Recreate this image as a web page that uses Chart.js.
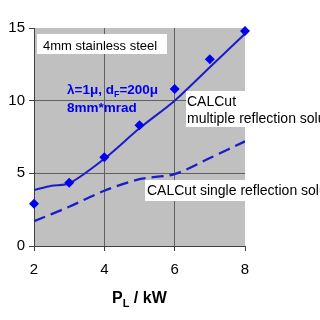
<!DOCTYPE html>
<html>
<head>
<meta charset="utf-8">
<script src="https://cdn.jsdelivr.net/npm/chart.js@4"></script>
<style>
  html, body { margin: 0; padding: 0; background: #fff; }
  #wrap { width: 320px; height: 320px; }
</style>
</head>
<body>
<div id="wrap"><canvas id="chart" width="320" height="320"></canvas></div>
<script>
// values
const pointX = [2, 3, 4, 5, 6, 7, 8];
const measured = [2.9, 4.35, 6.1, 8.3, 10.8, 12.85, 14.8];
const multiX = [2, 2.5, 3, 4, 5, 6, 7, 8];
const multiRefl = [3.85, 4.15, 4.3, 6.0, 8.1, 10.0, 12.3, 14.6];
const singleX = [2, 3, 4, 5, 6, 7, 8];
const singleRefl = [1.7, 2.7, 3.8, 4.6, 4.95, 6.05, 7.2];
const xTicks = [2, 4, 6, 8];
const yTicks = [0, 5, 10, 15];

const FONT = 'Arial, "Liberation Sans", sans-serif';
const BLUE = '#0000ee';
const LINE = '#1c1cc8';

function toXY(xs, ys) {
  return xs.map((x, i) => ({ x: x, y: ys[i] }));
}

const plotBg = {
  id: 'plotBg',
  beforeDraw(chart) {
    const a = chart.chartArea;
    const c = chart.ctx;
    c.save();
    c.fillStyle = '#c0c0c0';
    c.fillRect(a.left, a.top, a.right - a.left, a.bottom - a.top);
    c.restore();
  }
};

function box(c, x, y, w, h) {
  c.fillStyle = '#ffffff';
  c.fillRect(x, y, w, h);
}

const notes = {
  id: 'notes',
  afterDraw(chart) {
    const c = chart.ctx;
    c.save();
    c.textBaseline = 'alphabetic';
    c.textAlign = 'left';

    // material label
    box(c, 37, 34, 130, 20);
    c.fillStyle = '#000';
    c.font = '13px ' + FONT;
    c.fillText('4mm stainless steel', 43, 50);

    // beam parameters
    c.fillStyle = BLUE;
    c.font = 'bold 13.5px ' + FONT;
    let t = 'λ=1μ, d';
    c.fillText(t, 67, 94);
    let w = c.measureText(t).width;
    c.font = 'bold 9px ' + FONT;
    c.fillText('F', 67 + w, 97);
    let w2 = c.measureText('F').width;
    c.font = 'bold 13.5px ' + FONT;
    c.fillText('=200μ', 67 + w + w2, 94);
    c.fillText('8mm*mrad', 67, 112);

    // multiple reflection label
    box(c, 186, 91, 134, 36);
    c.fillStyle = '#000';
    c.font = '14px ' + FONT;
    c.fillText('CALCut', 187, 106);
    c.fillText('multiple reflection solution', 187, 123);

    // single reflection label
    box(c, 145, 180, 175, 21);
    c.fillStyle = '#000';
    c.fillText('CALCut single reflection solution', 147, 195);

    // axis title
    c.font = 'bold 16px ' + FONT;
    c.fillText('P', 112, 303);
    let pw = c.measureText('P').width;
    c.font = 'bold 11px ' + FONT;
    c.fillText('L', 112 + pw, 307);
    let lw = c.measureText('L').width;
    c.font = 'bold 16px ' + FONT;
    c.fillText(' / kW', 112 + pw + lw, 303);
    c.restore();
  }
};

new Chart(document.getElementById('chart'), {
  type: 'scatter',
  data: {
    datasets: [
      {
        label: 'measured',
        data: toXY(pointX, measured),
        showLine: false,
        pointStyle: 'rectRot',
        pointRadius: 5,
        backgroundColor: BLUE,
        borderColor: BLUE,
        borderWidth: 0,
        clip: false,
        order: 0
      },
      {
        label: 'multiple reflection',
        data: toXY(multiX, multiRefl),
        showLine: true,
        pointRadius: 0,
        borderColor: LINE,
        borderWidth: 2,
        tension: 0.25,
        order: 1
      },
      {
        label: 'single reflection',
        data: toXY(singleX, singleRefl),
        showLine: true,
        pointRadius: 0,
        borderColor: LINE,
        borderWidth: 2.3,
        borderDash: [12, 6],
        tension: 0.3,
        order: 2
      }
    ]
  },
  options: {
    responsive: false,
    animation: false,
    layout: { padding: { top: 28, right: 75, left: 0, bottom: 0 } },
    plugins: {
      legend: { display: false },
      tooltip: { enabled: false }
    },
    scales: {
      x: {
        type: 'linear',
        min: 2,
        max: 8,
        afterBuildTicks: s => { s.ticks = xTicks.map(v => ({ value: v })); },
        afterFit: s => { s.height = 74; },
        ticks: { color: '#000', font: { family: FONT, size: 15 }, padding: 10 },
        grid: {
          color: ctx => (ctx.tick && (ctx.tick.value === 4 || ctx.tick.value === 6)) ? '#606060' : 'rgba(0,0,0,0)',
          tickColor: '#404040',
          tickLength: 5,
          lineWidth: 1
        },
        border: { display: true, color: '#404040', width: 1 }
      },
      y: {
        type: 'linear',
        min: 0,
        max: 15,
        afterBuildTicks: s => { s.ticks = yTicks.map(v => ({ value: v })); },
        afterFit: s => { s.width = 34; },
        ticks: { color: '#000', font: { family: FONT, size: 15 }, padding: 4 },
        grid: {
          color: ctx => (ctx.tick && (ctx.tick.value === 5 || ctx.tick.value === 10)) ? '#606060' : 'rgba(0,0,0,0)',
          tickColor: '#404040',
          tickLength: 5,
          lineWidth: 1
        },
        border: { display: true, color: '#404040', width: 1 }
      }
    }
  },
  plugins: [plotBg, notes]
});
</script>
</body>
</html>
